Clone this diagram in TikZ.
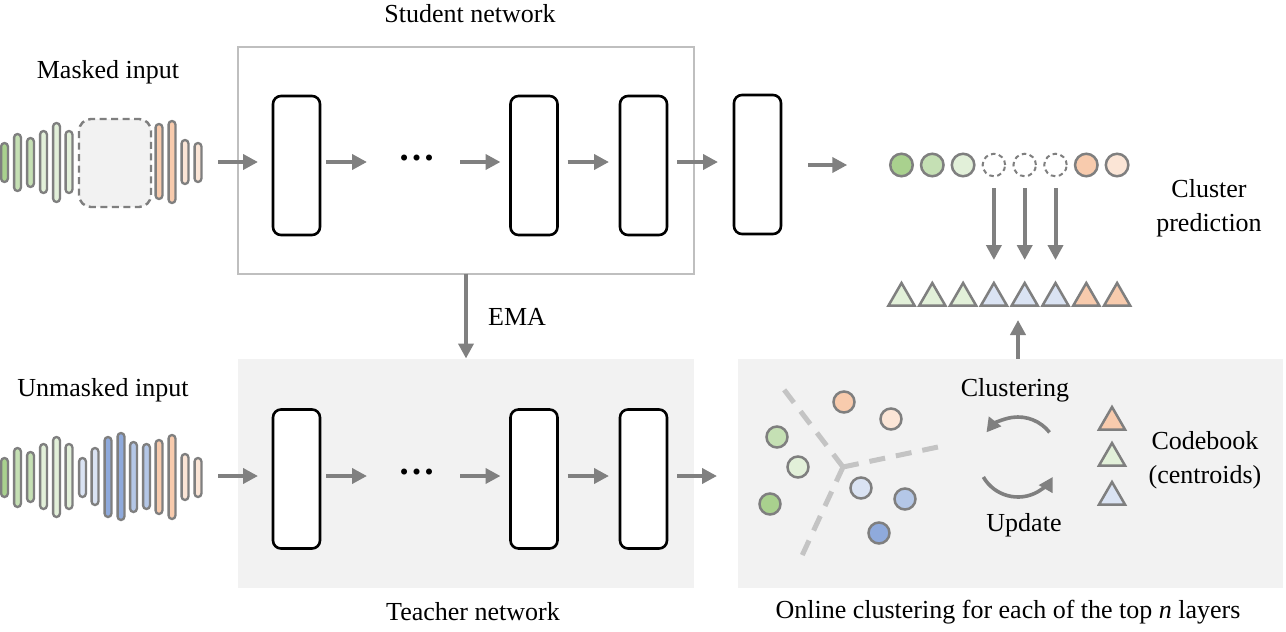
\documentclass[tikz,border=0pt]{standalone}
\usepackage{fontspec}
\setmainfont{Liberation Serif}
\usetikzlibrary{arrows.meta,shapes.geometric,calc}
\definecolor{gA}{HTML}{A9D18E}
\definecolor{gB}{HTML}{C5E0B4}
\definecolor{gC}{HTML}{E2F0D9}
\definecolor{oA}{HTML}{F8CBAD}
\definecolor{oB}{HTML}{FBE5D6}
\definecolor{bA}{HTML}{8FAADC}
\definecolor{bB}{HTML}{B4C7E7}
\definecolor{bC}{HTML}{DAE3F3}
\definecolor{stk}{HTML}{7F7F7F}
\definecolor{arrg}{HTML}{808080}
\definecolor{bgg}{HTML}{F2F2F2}
\definecolor{brd}{HTML}{BFBFBF}
\definecolor{sepg}{HTML}{C4C4C4}
\begin{document}
\begin{tikzpicture}[x=1pt,y=-1pt,
  lbl/.style={font=\fontsize{26}{34}\selectfont, align=center, inner sep=0pt},
  arr/.style={draw=arrg, line width=4pt, -{Triangle[length=15pt,width=15pt]}},
  carr/.style={draw=arrg, line width=3.6pt, -{Triangle[length=14pt,width=15pt]}},
  blk/.style={draw=black, line width=2.6pt, fill=white, rounded corners=8pt, minimum width=47pt, minimum height=139pt, inner sep=0pt, outer sep=0pt},
  bar/.style={draw=stk, line width=2.3pt, rounded corners=3.4pt},
  tok/.style={circle, draw=stk, line width=2.5pt, minimum size=22.5pt, inner sep=0pt, outer sep=0pt},
  ptok/.style={circle, draw=stk, line width=2.5pt, minimum size=21pt, inner sep=0pt, outer sep=0pt},
  mtok/.style={circle, draw=stk, line width=2pt, dash pattern=on 4.5pt off 3.5pt, fill=white, minimum size=22.5pt, inner sep=0pt, outer sep=0pt},
  tri/.style={regular polygon, regular polygon sides=3, draw=stk, line width=2.5pt, minimum size=30pt, inner sep=0pt, outer sep=0pt},
  sepl/.style={draw=sepg, line width=5pt, dash pattern=on 16pt off 11pt},
  dots/.style={font=\fontsize{37}{37}\selectfont\bfseries, inner sep=0pt}
]
\useasboundingbox[fill=white] (0,0) rectangle (1286,632);

% ---------- boxes ----------
\node[draw=brd, line width=2pt, fill=white, minimum width=456pt, minimum height=227pt, inner sep=0pt, outer sep=0pt] (stud) at (466,160) {};
\node[fill=bgg, minimum width=456pt, minimum height=229pt, inner sep=0pt, outer sep=0pt] (tbox) at (466,473) {};
\node[fill=bgg, minimum width=545pt, minimum height=229pt, inner sep=0pt, outer sep=0pt] (clbox) at (1010.5,473) {};

% ---------- labels ----------
\node[lbl] (lstud) at (470,14) {Student network};
\node[lbl] (lmask) at (108,72) {Masked input};
\node[lbl] (lunm) at (103,390) {Unmasked input};
\node[lbl] (lema) at (517,317) {EMA};
\node[lbl] (lteach) at (473,612) {Teacher network};
\node[lbl] (lonl) at (1008,612) {Online clustering for each of the top \textit{n} layers};
\node[lbl] (lcp) at (1209,208) {Cluster\\prediction};
\node[lbl] (lclu) at (1015,390) {Clustering};
\node[lbl] (lupd) at (1024,525) {Update};
\node[lbl] (lcb) at (1205,460) {Codebook\\(centroids)};

% ---------- waveforms ----------
\foreach \x/\a/\b/\c in {4.5/143/182/gA, 17.5/134/191/gB, 30.5/138/187/gB, 43.5/131/193/gC, 56.5/123/202/gC, 69/131/193/gC,
  159/124/199/oA, 172/121/203/oA, 185/140/184/oB, 198/143/182/oB}
  \draw[bar, fill=\c] (\x-3.4,\a) rectangle (\x+3.4,\b);
\draw[draw=stk, line width=2.4pt, dash pattern=on 7pt off 4.5pt, fill=bgg, rounded corners=12pt] (79,119) rectangle (151,207);

\foreach \x/\a/\b/\c in {4.5/458/497/gA, 17.5/448/507/gB, 30.5/452/502/gB, 43.5/444/509/gC, 56.5/437/517/gC, 69/444/509/gC,
  82.5/458/497/bC, 95/448/505/bC, 108/437/517/bA, 121/433/520/bA, 133.5/442/512/bB, 146.5/444/509/bB,
  159/440/514/oA, 172/435/519/oA, 185/454/500/oB, 198/458/497/oB}
  \draw[bar, fill=\c] (\x-3.4,\a) rectangle (\x+3.4,\b);

% ---------- student blocks ----------
\node[blk] (s1) at (296.5,165.5) {};
\node[dots] (sdots) at (417,158) {…};
\node[blk] (s2) at (534,165.5) {};
\node[blk] (s3) at (643.5,165.5) {};
\node[blk] (s4) at (757.5,164.5) {};

\coordinate (win) at (218,162);
\draw[arr] (win) -- ($(s1.west)+(-15,-3.5)$);
\draw[arr] ($(s1.east)+(6,-3.5)$) -- ($(sdots.center)+(-50,4)$);
\draw[arr] ($(sdots.center)+(43,4)$) -- ($(s2.west)+(-10,-3.5)$);
\draw[arr] ($(s2.east)+(10,-3.5)$) -- ($(s3.west)+(-11,-3.5)$);
\draw[arr] ($(s3.east)+(10,-3.5)$) -- ($(s4.west)+(-16,-2.5)$);

% ---------- teacher blocks ----------
\node[blk] (t1) at (296.5,479) {};
\node[dots] (tdots) at (417,472) {…};
\node[blk] (t2) at (534,479) {};
\node[blk] (t3) at (643.5,479) {};

\coordinate (win2) at (218,476);
\draw[arr] (win2) -- ($(t1.west)+(-15,-3)$);
\draw[arr] ($(t1.east)+(6,-3)$) -- ($(tdots.center)+(-50,4)$);
\draw[arr] ($(tdots.center)+(43,4)$) -- ($(t2.west)+(-10,-3)$);
\draw[arr] ($(t2.east)+(10,-3)$) -- ($(t3.west)+(-11,-3)$);
\draw[arr] ($(t3.east)+(10,-3)$) -- ($(clbox.west)+(-21,3)$);

% EMA
\draw[arr] (stud.south) -- (tbox.north);

% ---------- tokens ----------
\node[tok, fill=gA] (c1) at (901.5,165) {};
\node[tok, fill=gB] (c2) at (932.3,165) {};
\node[tok, fill=gC] (c3) at (963.1,165) {};
\node[mtok] (c4) at (993.9,165) {};
\node[mtok] (c5) at (1024.7,165) {};
\node[mtok] (c6) at (1055.5,165) {};
\node[tok, fill=oA] (c7) at (1086.3,165) {};
\node[tok, fill=oB] (c8) at (1117.1,165) {};

\draw[arr] ($(s4.east)+(27,0.5)$) -- ($(c1.west)+(-43,0)$);

\node[tri, fill=gC] (tr1) at (901.5,298) {};
\node[tri, fill=gC] (tr2) at (932.3,298) {};
\node[tri, fill=gC] (tr3) at (963.1,298) {};
\node[tri, fill=bC] (tr4) at (993.9,298) {};
\node[tri, fill=bC] (tr5) at (1024.7,298) {};
\node[tri, fill=bC] (tr6) at (1055.5,298) {};
\node[tri, fill=oA] (tr7) at (1086.3,298) {};
\node[tri, fill=oA] (tr8) at (1117.1,298) {};

\draw[arr] ($(c4.south)+(0,12)$) -- ($(tr4.north)+(0,-23)$);
\draw[arr] ($(c5.south)+(0,12)$) -- ($(tr5.north)+(0,-23)$);
\draw[arr] ($(c6.south)+(0,12)$) -- ($(tr6.north)+(0,-23)$);

\coordinate (upend) at (1018,320);
\draw[arr] (clbox.north -| upend) -- (upend);

% ---------- clustering panel ----------
\coordinate (jn) at (843,467);
\draw[sepl] (jn) -- (782,387);
\draw[sepl] (jn) -- (938,447);
\draw[sepl] (jn) -- (800,560);

\node[ptok, fill=oA] (p1) at (844,402) {};
\node[ptok, fill=oB] (p2) at (891,419) {};
\node[ptok, fill=gB] (p3) at (777,437) {};
\node[ptok, fill=gC] (p4) at (798,467) {};
\node[ptok, fill=gA] (p5) at (770,504) {};
\node[ptok, fill=bC] (p6) at (861,488) {};
\node[ptok, fill=bB] (p7) at (905,499) {};
\node[ptok, fill=bA] (p8) at (879,533) {};

\coordinate (cc) at (1018,457);
\draw[carr] ([shift={(38:40pt)}]cc) arc[start angle=38, end angle=142, radius=40pt];
\draw[carr] ([shift={(210:40pt)}]cc) arc[start angle=210, end angle=330, radius=40pt];

\node[tri, fill=oA] (k1) at (1112,422) {};
\node[tri, fill=gC] (k2) at (1112,458) {};
\node[tri, fill=bC] (k3) at (1112,497) {};
\end{tikzpicture}
\end{document}
